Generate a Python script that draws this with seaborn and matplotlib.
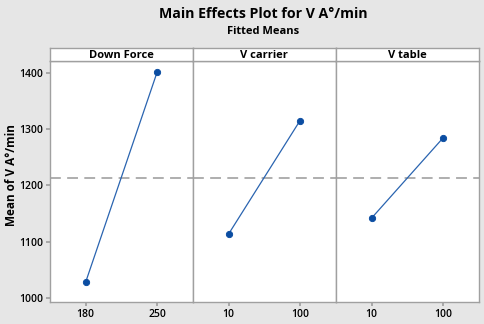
import matplotlib
matplotlib.use("Agg")
import matplotlib.pyplot as plt
import seaborn as sns
import pandas as pd

factors = ["Down Force", "V carrier", "V table"]
levels = [["180", "250"], ["10", "100"], ["10", "100"]]
means = [[1029, 1401], [1114, 1315], [1142, 1284]]
overall_mean = 1214
y_ticks = [1000, 1100, 1200, 1300, 1400]

title = "Main Effects Plot for V A°/min"
subtitle = "Fitted Means"
ylabel = "Mean of V A°/min"

sns.set_theme(style="white")
plt.rcParams['font.family'] = ['Open Sans', 'DejaVu Sans']
plt.rcParams['text.color'] = 'black'
plt.rcParams['xtick.color'] = 'black'
plt.rcParams['ytick.color'] = 'black'

bg = "#e6e6e6"
edge = "#a0a0a0"
line_col = "#2a64b0"
mark_col = "#0b4da2"

fig = plt.figure(figsize=(4.85, 3.24), dpi=100, facecolor=bg)
W, H = 485, 324
left, right = 50, 478.7
top_plot, bottom_plot = 60.7, 301.7
head_top = 48.3
pw = (right - left) / 3

for i, (f, lv, m) in enumerate(zip(factors, levels, means)):
    x0 = left + i * pw
    ax = fig.add_axes([x0 / W, 1 - bottom_plot / H, pw / W, (bottom_plot - top_plot) / H])
    df = pd.DataFrame({"level": lv, "mean": m})
    ax.axhline(overall_mean, color="#a8a8a8", lw=1.3, ls=(0, (6, 3.5)), zorder=1)
    sns.pointplot(data=df, x="level", y="mean", ax=ax, color=mark_col,
                  markers="o", markersize=4.5, linewidth=0.9, zorder=3)
    for ln in ax.lines[1:]:
        ln.set_color(line_col)
        ln.set_markerfacecolor(mark_col)
        ln.set_markeredgecolor(mark_col)
    ax.set_xlim(-0.5, 1.5)
    ax.set_ylim(994, 1421)
    ax.set_xlabel("")
    ax.set_ylabel("")
    ax.set_facecolor("white")
    for s in ax.spines.values():
        s.set_color(edge)
        s.set_linewidth(1.0)
    ax.tick_params(axis="x", bottom=True, length=3, color=edge, labelcolor="black",
                   labelsize=7.5, pad=2)
    ax.set_yticks(y_ticks)
    if i == 0:
        ax.tick_params(axis="y", left=True, length=3, color=edge, labelcolor="black",
                       labelsize=7.5, pad=2)
    else:
        ax.tick_params(axis="y", left=False, labelleft=False)
    for lab in ax.get_xticklabels() + ax.get_yticklabels():
        lab.set_fontweight("semibold")
    hax = fig.add_axes([x0 / W, 1 - top_plot / H, pw / W, (top_plot - head_top) / H])
    hax.set_facecolor("white")
    hax.set_xticks([])
    hax.set_yticks([])
    for s in hax.spines.values():
        s.set_color(edge)
        s.set_linewidth(1.0)
    hax.text(0.5, 0.45, f, ha="center", va="center", fontsize=8,
             fontweight="bold", transform=hax.transAxes, color="black")

fig.text(12 / W, 1 - 175 / H, ylabel, rotation=90, ha="center", va="center",
         fontsize=8.5, fontweight="bold", color="black")
fig.text(263 / W, 1 - 14 / H, title, ha="center", va="center", fontsize=10.2,
         fontweight="bold", color="black")
fig.text(263 / W, 1 - 31 / H, subtitle, ha="center", va="center", fontsize=8,
         fontweight="bold", color="black")

fig.savefig("out.png", dpi=100, facecolor=bg)
